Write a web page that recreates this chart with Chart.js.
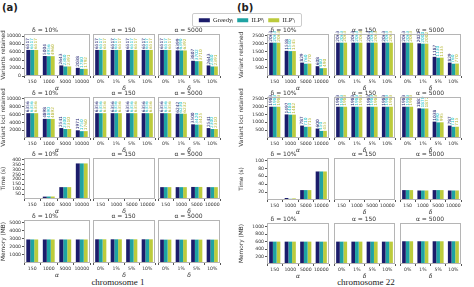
<!DOCTYPE html>
<html>
<head>
<meta charset="utf-8">
<script src="https://cdn.jsdelivr.net/npm/chart.js@4.4.1/dist/chart.umd.min.js"></script>
<style>
  body { margin: 0; width: 474px; height: 287px; position: relative; background: #fff; overflow: hidden; font-family: "DejaVu Sans", sans-serif; }
  .box { position: absolute; line-height: 0; }
  .tag { position: absolute; font-weight: bold; font-size: 10px; color: #222; }
  .chrom { position: absolute; font-family: "Liberation Serif", serif; font-size: 9px; color: #222; transform: translateX(-50%); white-space: nowrap; }
  #legendBox { position: absolute; border: 1px solid #ccc; border-radius: 2px; background: #fff; overflow: hidden; line-height: 0; }
</style>
</head>
<body>
<div class="tag" style="left:2px;top:2px">(a)</div>
<div class="tag" style="left:237px;top:2px">(b)</div>
<div class="chrom" style="left:118px;top:277px">chromosome 1</div>
<div class="chrom" style="left:366px;top:277px">chromosome 22</div>

<script>
const alphaTicks = ["150", "1000", "5000", "10000"];
const deltaTicks = ["0%", "1%", "5%", "10%"];
const panelTitles = ["δ = 10%", "α = 150", "α = 5000"];
const seriesNames = ["Greedyₗ", "ILPᵖₗ", "ILPᵛₗ"];
const barColors = ["#1b1c6b", "#1fa3a3", "#bccb3c"];
const labelColors = ["#1b1c6b", "#2cc3cf", "#b7b83a"];

// each array: 3 panels x 4 bars (δ=10% by α | α=150 by δ | α=5000 by δ)
// chromosome 1
const chr1VariantsGreedy = [6517, 5004, 2643, 2038, 6517, 6517, 6517, 6517, 6517, 6399, 3807, 2643];
const chr1VariantsIlpP   = [6517, 4956, 2380, 1780, 6517, 6517, 6517, 6517, 6517, 6390, 3702, 2380];
const chr1VariantsIlpV   = [6517, 4960, 2391, 1792, 6517, 6517, 6517, 6517, 6517, 6392, 3710, 2391];
const chr1LociGreedy = [6356, 4898, 2541, 1971, 6356, 6356, 6356, 6356, 6356, 6242, 3500, 2541];
const chr1LociIlpP   = [6356, 4890, 2300, 1750, 6356, 6356, 6356, 6356, 6356, 6230, 3420, 2300];
const chr1LociIlpV   = [6356, 4892, 2310, 1760, 6356, 6356, 6356, 6356, 6356, 6232, 3425, 2310];
const chr1TimeGreedy = [2, 24, 120, 360, 2, 2, 2, 2, 120, 120, 122, 120];
const chr1TimeIlpP   = [2, 25, 120, 360, 2, 2, 2, 2, 120, 120, 122, 120];
const chr1TimeIlpV   = [2, 25, 120, 360, 2, 2, 2, 2, 120, 120, 122, 120];
const chr1MemGreedy = [2900, 2900, 2900, 2900, 2920, 2920, 2920, 2920, 2880, 2880, 2880, 2880];
const chr1MemIlpP   = [2900, 2900, 2900, 2900, 2920, 2920, 2920, 2920, 2880, 2880, 2880, 2880];
const chr1MemIlpV   = [2900, 2900, 2900, 2900, 2920, 2920, 2920, 2920, 2880, 2880, 2880, 2880];
// chromosome 22
const chr22VariantsGreedy = [2063, 1558, 829, 608, 2063, 2063, 2063, 2063, 2063, 2021, 1187, 829];
const chr22VariantsIlpP   = [2063, 1540, 760, 480, 2063, 2063, 2063, 2063, 2063, 2000, 1130, 760];
const chr22VariantsIlpV   = [2063, 1545, 770, 490, 2063, 2063, 2063, 2063, 2063, 2002, 1135, 770];
const chr22LociGreedy = [1983, 1497, 787, 600, 1983, 1983, 1983, 1983, 1983, 1881, 1038, 787];
const chr22LociIlpP   = [1983, 1480, 710, 450, 1983, 1983, 1983, 1983, 1983, 1870, 990, 710];
const chr22LociIlpV   = [1983, 1482, 715, 455, 1983, 1983, 1983, 1983, 1983, 1872, 995, 715];
const chr22TimeGreedy = [1, 5, 25, 72, 1, 1, 1, 1, 25, 24, 25, 24];
const chr22TimeIlpP   = [1, 3, 25, 72, 1, 1, 1, 1, 25, 24, 25, 24];
const chr22TimeIlpV   = [1, 4, 25, 72, 1, 1, 1, 1, 25, 24, 25, 24];
const chr22MemGreedy = [600, 600, 600, 600, 600, 600, 600, 600, 610, 610, 610, 610];
const chr22MemIlpP   = [600, 600, 600, 600, 600, 600, 600, 600, 610, 610, 610, 610];
const chr22MemIlpV   = [600, 600, 600, 600, 600, 600, 600, 600, 610, 610, 610, 610];

// y tick values shown on each row's first panel
const chr1VariantTicks = [0, 2000, 4000, 6000, 8000, 10000];
const chr1LociTicks = [2000, 4000, 6000, 8000, 10000];
const chr1TimeTicks = [50, 100, 150, 200, 250, 300, 350, 400];
const chr1MemTicks = [1000, 2000, 3000, 4000, 5000];
const chr22VariantTicks = [500, 1000, 1500, 2000, 2500];
const chr22LociTicks = [500, 1000, 1500, 2000, 2500];
const chr22TimeTicks = [20, 40, 60, 80, 100];
const chr22MemTicks = [200, 400, 600, 800, 1000];

// panel boxes (plot area) in page pixels
const leftCols = [[24, 90], [92, 155], [157, 220]];
const rightCols = [[267, 329], [333, 395], [399, 461]];
const leftRows = [[34, 76], [97, 138], [158, 199], [220, 263]];
const rightRows = [[34, 76], [97, 138], [158, 200], [223, 264]];

const halves = [
  {
    cols: leftCols, rows: leftRows, yAxisW: 24,
    rowCfg: [
      { title: "Variants retained", max: 10500, ticks: chr1VariantTicks, labels: true, data: [chr1VariantsGreedy, chr1VariantsIlpP, chr1VariantsIlpV] },
      { title: "Variant loci retained", max: 10500, ticks: chr1LociTicks, labels: true, data: [chr1LociGreedy, chr1LociIlpP, chr1LociIlpV] },
      { title: "Time (s)", max: 415, ticks: chr1TimeTicks, labels: false, time: true, data: [chr1TimeGreedy, chr1TimeIlpP, chr1TimeIlpV] },
      { title: "Memory (MB)", max: 5300, ticks: chr1MemTicks, labels: false, data: [chr1MemGreedy, chr1MemIlpP, chr1MemIlpV] },
    ]
  },
  {
    cols: rightCols, rows: rightRows, yAxisW: 29,
    rowCfg: [
      { title: "Variant retained", max: 2600, ticks: chr22VariantTicks, labels: true, data: [chr22VariantsGreedy, chr22VariantsIlpP, chr22VariantsIlpV] },
      { title: "Variant loci retained", max: 2600, ticks: chr22LociTicks, labels: true, data: [chr22LociGreedy, chr22LociIlpP, chr22LociIlpV] },
      { title: "Time (s)", max: 106, ticks: chr22TimeTicks, labels: false, time: true, data: [chr22TimeGreedy, chr22TimeIlpP, chr22TimeIlpV] },
      { title: "Memory (MB)", max: 1100, ticks: chr22MemTicks, labels: false, data: [chr22MemGreedy, chr22MemIlpP, chr22MemIlpV] },
    ]
  }
];

const frame = {
  id: "frame",
  afterDraw(chart) {
    const a = chart.chartArea, ctx = chart.ctx;
    ctx.save();
    ctx.strokeStyle = "#b5b5b5";
    ctx.lineWidth = 1;
    ctx.strokeRect(Math.round(a.left) + 0.5, Math.round(a.top) + 0.5, Math.round(a.width) - 1, Math.round(a.height) - 1);
    ctx.restore();
  }
};

const valueLabels = {
  id: "valueLabels",
  afterDatasetsDraw(chart, args, opts) {
    if (!opts.show) return;
    const ctx = chart.ctx;
    chart.data.datasets.forEach((ds, i) => {
      chart.getDatasetMeta(i).data.forEach((el, j) => {
        ctx.save();
        ctx.translate(el.x, el.y - 1);
        ctx.rotate(-Math.PI / 2);
        ctx.fillStyle = labelColors[i];
        ctx.font = "4.3px 'DejaVu Sans'";
        ctx.textAlign = "left";
        ctx.textBaseline = "middle";
        ctx.fillText(String(ds.data[j]), 0, 0);
        ctx.restore();
      });
    });
  }
};

const T = 9, B = 16, R = 1, E = 18;

function makePanel(half, r, c) {
  const cfg = half.rowCfg[r];
  const [x0, x1] = half.cols[c];
  const [y0, y1] = half.rows[r];
  const first = c === 0;
  const L = first ? half.yAxisW : 1;
  const ext = first ? E : 0;   // extra room so the long y title is not cut
  const w = x1 - x0 + L + R, h = y1 - y0 + T + B + 2 * ext;

  const div = document.createElement("div");
  div.className = "box";
  div.style.left = (x0 - L) + "px";
  div.style.top = (y0 - T - ext) + "px";
  const canvas = document.createElement("canvas");
  canvas.width = w;
  canvas.height = h;
  div.appendChild(canvas);
  document.body.appendChild(div);

  const xLabels = (c === 0 || cfg.time) ? alphaTicks : deltaTicks;
  const datasets = cfg.data.map((arr, i) => ({
    label: seriesNames[i],
    data: arr.slice(c * 4, c * 4 + 4),
    backgroundColor: barColors[i],
    borderWidth: 0,
    categoryPercentage: 0.72,
    barPercentage: 1.0,
  }));

  new Chart(canvas.getContext("2d"), {
    type: "bar",
    data: { labels: xLabels, datasets },
    options: {
      responsive: false,
      animation: false,
      events: [],
      layout: { padding: { left: first ? 0 : 1, right: R, top: 1.8 + ext, bottom: ext } },
      plugins: {
        legend: { display: false },
        tooltip: { enabled: false },
        title: { display: true, text: panelTitles[c], color: "#333", font: { size: 6, family: "DejaVu Sans", weight: "normal", lineHeight: 1.2 }, padding: { top: 0, bottom: 0 } },
        valueLabels: { show: cfg.labels },
      },
      scales: {
        x: {
          grid: { display: true, drawOnChartArea: false, drawTicks: true, tickLength: 2, color: "#555" },
          border: { display: false },
          ticks: { color: "#333", font: { size: 4.6, family: "DejaVu Sans" }, padding: 1, maxRotation: 0, minRotation: 0, autoSkip: false },
          title: { display: true, text: c === 0 ? "α" : "δ", color: "#333", font: { size: 6, family: "DejaVu Sans", style: "italic" }, padding: 0 },
          afterFit: s => { s.height = B; }
        },
        y: {
          display: first,
          min: 0,
          max: cfg.max,
          grid: { display: true, drawOnChartArea: false, drawTicks: true, tickLength: 2, color: "#555" },
          border: { display: false },
          ticks: { color: "#333", padding: 1, autoSkip: false, font: { size: 4.6, family: "DejaVu Sans" }, callback: v => String(v) },
          afterBuildTicks: s => { s.ticks = cfg.ticks.map(v => ({ value: v })); },
          title: { display: true, text: cfg.title, color: "#333", font: { size: 5.8, family: "DejaVu Sans" }, padding: 0 },
          afterFit: s => { s.width = L; }
        }
      }
    },
    plugins: [frame, valueLabels]
  });
}

halves.forEach(half => {
  for (let r = 0; r < 4; r++) {
    for (let c = 0; c < 3; c++) makePanel(half, r, c);
  }
});

// legend (Chart.js legend plugin on its own canvas, clipped to the frame)
const legendBox = document.createElement("div");
legendBox.id = "legendBox";
legendBox.style.cssText = "left:192px;top:13px;width:108px;height:12px";
const legendCanvas = document.createElement("canvas");
legendCanvas.width = 108;
legendCanvas.height = 50;
legendCanvas.style.marginTop = "-1px";
legendBox.appendChild(legendCanvas);
document.body.appendChild(legendBox);

new Chart(legendCanvas.getContext("2d"), {
  type: "bar",
  data: {
    labels: [""],
    datasets: seriesNames.map((n, i) => ({ label: n, data: [], backgroundColor: barColors[i] }))
  },
  options: {
    responsive: false,
    animation: false,
    events: [],
    layout: { padding: 0 },
    scales: { x: { display: false }, y: { display: false } },
    plugins: {
      tooltip: { enabled: false },
      legend: {
        display: true,
        position: "top",
        labels: { boxWidth: 11, boxHeight: 4, padding: 4, color: "#222", font: { size: 6.5, family: "Liberation Serif" } }
      }
    }
  }
});
</script>
</body>
</html>
